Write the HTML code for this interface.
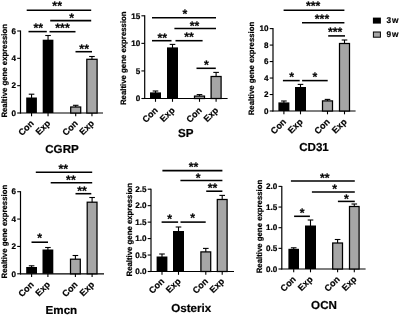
<!DOCTYPE html>
<html><head><meta charset="utf-8"><title>Figure</title>
<style>
html,body{margin:0;padding:0;background:#fff;}
body{width:400px;height:315px;overflow:hidden;}
svg{display:block;font-family:'Liberation Sans', Arial, sans-serif;}
text{fill:#000;stroke:#000;stroke-width:0.2px;text-rendering:geometricPrecision;}
</style></head><body>
<svg width="400" height="315" viewBox="0 0 400 315">
<rect width="400" height="315" fill="#fff"/>
<line x1="20.50" y1="30.50" x2="20.50" y2="113.50" stroke="#000" stroke-width="1.2"/>
<line x1="20.00" y1="113.00" x2="103.00" y2="113.00" stroke="#000" stroke-width="1.2"/>
<line x1="17.20" y1="113.00" x2="20.50" y2="113.00" stroke="#000" stroke-width="1.1"/>
<text x="16.00" y="115.70" font-size="8.1" font-weight="bold" text-anchor="end">0</text>
<line x1="17.20" y1="85.67" x2="20.50" y2="85.67" stroke="#000" stroke-width="1.1"/>
<text x="16.00" y="88.37" font-size="8.1" font-weight="bold" text-anchor="end">2</text>
<line x1="17.20" y1="58.33" x2="20.50" y2="58.33" stroke="#000" stroke-width="1.1"/>
<text x="16.00" y="61.03" font-size="8.1" font-weight="bold" text-anchor="end">4</text>
<line x1="17.20" y1="31.00" x2="20.50" y2="31.00" stroke="#000" stroke-width="1.1"/>
<text x="16.00" y="33.70" font-size="8.1" font-weight="bold" text-anchor="end">6</text>
<text x="6.80" y="117.60" font-size="7.8" font-weight="bold" text-anchor="start" transform="rotate(-90 6.80 117.60)">Realtive gene expression</text>
<line x1="31.55" y1="94.20" x2="31.55" y2="98.50" stroke="#000" stroke-width="1.1"/>
<line x1="28.75" y1="94.20" x2="34.35" y2="94.20" stroke="#000" stroke-width="1.1"/>
<rect x="26.20" y="97.50" width="10.70" height="15.50" fill="#000"/>
<line x1="31.55" y1="113.00" x2="31.55" y2="116.30" stroke="#000" stroke-width="1.1"/>
<text x="34.35" y="123.90" font-size="9.0" font-weight="bold" text-anchor="end" transform="rotate(-45 34.35 123.90)">Con</text>
<line x1="48.05" y1="35.50" x2="48.05" y2="40.70" stroke="#000" stroke-width="1.1"/>
<line x1="45.25" y1="35.50" x2="50.85" y2="35.50" stroke="#000" stroke-width="1.1"/>
<rect x="42.70" y="39.70" width="10.70" height="73.30" fill="#000"/>
<line x1="48.05" y1="113.00" x2="48.05" y2="116.30" stroke="#000" stroke-width="1.1"/>
<text x="50.85" y="123.90" font-size="9.0" font-weight="bold" text-anchor="end" transform="rotate(-45 50.85 123.90)">Exp</text>
<line x1="75.70" y1="105.30" x2="75.70" y2="107.50" stroke="#000" stroke-width="1.1"/>
<line x1="72.90" y1="105.30" x2="78.50" y2="105.30" stroke="#000" stroke-width="1.1"/>
<rect x="70.70" y="107.00" width="10.00" height="6.00" fill="#a6a6a6" stroke="#000" stroke-width="1.25"/>
<line x1="75.70" y1="113.00" x2="75.70" y2="116.30" stroke="#000" stroke-width="1.1"/>
<text x="78.50" y="123.90" font-size="9.0" font-weight="bold" text-anchor="end" transform="rotate(-45 78.50 123.90)">Con</text>
<line x1="91.95" y1="56.50" x2="91.95" y2="59.80" stroke="#000" stroke-width="1.1"/>
<line x1="89.15" y1="56.50" x2="94.75" y2="56.50" stroke="#000" stroke-width="1.1"/>
<rect x="86.80" y="59.30" width="10.30" height="53.70" fill="#a6a6a6" stroke="#000" stroke-width="1.25"/>
<line x1="91.95" y1="113.00" x2="91.95" y2="116.30" stroke="#000" stroke-width="1.1"/>
<text x="94.75" y="123.90" font-size="9.0" font-weight="bold" text-anchor="end" transform="rotate(-45 94.75 123.90)">Exp</text>
<line x1="26.70" y1="10.30" x2="91.20" y2="10.30" stroke="#000" stroke-width="1.55"/>
<text x="57.15" y="10" font-size="12.3" font-weight="bold" text-anchor="middle" stroke-width="0.05">**</text>
<line x1="50.20" y1="20.60" x2="91.20" y2="20.60" stroke="#000" stroke-width="1.55"/>
<text x="71.75" y="22" font-size="12.3" font-weight="bold" text-anchor="middle" stroke-width="0.05">*</text>
<line x1="28.50" y1="31.60" x2="46.80" y2="31.60" stroke="#000" stroke-width="1.55"/>
<text x="38.30" y="32" font-size="12.3" font-weight="bold" text-anchor="middle" stroke-width="0.05">**</text>
<line x1="49.50" y1="31.70" x2="75.50" y2="31.70" stroke="#000" stroke-width="1.55"/>
<text x="62.50" y="32" font-size="12.3" font-weight="bold" text-anchor="middle" stroke-width="0.05">***</text>
<line x1="75.50" y1="51.70" x2="92.00" y2="51.70" stroke="#000" stroke-width="1.55"/>
<text x="84.15" y="53" font-size="12.3" font-weight="bold" text-anchor="middle" stroke-width="0.05">**</text>
<text x="62.00" y="153.40" font-size="11.6" font-weight="bold" text-anchor="middle">CGRP</text>
<line x1="144.70" y1="15.30" x2="144.70" y2="99.00" stroke="#000" stroke-width="1.2"/>
<line x1="144.20" y1="98.50" x2="227.60" y2="98.50" stroke="#000" stroke-width="1.2"/>
<line x1="141.40" y1="98.50" x2="144.70" y2="98.50" stroke="#000" stroke-width="1.1"/>
<text x="140.20" y="101.20" font-size="8.1" font-weight="bold" text-anchor="end">0</text>
<line x1="141.40" y1="70.93" x2="144.70" y2="70.93" stroke="#000" stroke-width="1.1"/>
<text x="140.20" y="73.63" font-size="8.1" font-weight="bold" text-anchor="end">5</text>
<line x1="141.40" y1="43.37" x2="144.70" y2="43.37" stroke="#000" stroke-width="1.1"/>
<text x="140.20" y="46.07" font-size="8.1" font-weight="bold" text-anchor="end">10</text>
<line x1="141.40" y1="15.80" x2="144.70" y2="15.80" stroke="#000" stroke-width="1.1"/>
<text x="140.20" y="18.50" font-size="8.1" font-weight="bold" text-anchor="end">15</text>
<text x="126.10" y="105.00" font-size="7.8" font-weight="bold" text-anchor="start" transform="rotate(-90 126.10 105.00)">Realtive gene expression</text>
<line x1="155.50" y1="91.00" x2="155.50" y2="93.40" stroke="#000" stroke-width="1.1"/>
<line x1="152.70" y1="91.00" x2="158.30" y2="91.00" stroke="#000" stroke-width="1.1"/>
<rect x="150.00" y="92.40" width="11.00" height="6.10" fill="#000"/>
<line x1="155.50" y1="98.50" x2="155.50" y2="101.80" stroke="#000" stroke-width="1.1"/>
<text x="158.30" y="110.80" font-size="9.0" font-weight="bold" text-anchor="end" transform="rotate(-45 158.30 110.80)">Con</text>
<line x1="172.50" y1="44.40" x2="172.50" y2="48.40" stroke="#000" stroke-width="1.1"/>
<line x1="169.70" y1="44.40" x2="175.30" y2="44.40" stroke="#000" stroke-width="1.1"/>
<rect x="167.00" y="47.40" width="11.00" height="51.10" fill="#000"/>
<line x1="172.50" y1="98.50" x2="172.50" y2="101.80" stroke="#000" stroke-width="1.1"/>
<text x="175.30" y="110.80" font-size="9.0" font-weight="bold" text-anchor="end" transform="rotate(-45 175.30 110.80)">Exp</text>
<line x1="199.50" y1="94.60" x2="199.50" y2="96.60" stroke="#000" stroke-width="1.1"/>
<line x1="196.70" y1="94.60" x2="202.30" y2="94.60" stroke="#000" stroke-width="1.1"/>
<rect x="194.50" y="96.10" width="10.00" height="2.40" fill="#a6a6a6" stroke="#000" stroke-width="1.25"/>
<line x1="199.50" y1="98.50" x2="199.50" y2="101.80" stroke="#000" stroke-width="1.1"/>
<text x="202.30" y="110.80" font-size="9.0" font-weight="bold" text-anchor="end" transform="rotate(-45 202.30 110.80)">Con</text>
<line x1="216.10" y1="72.40" x2="216.10" y2="77.00" stroke="#000" stroke-width="1.1"/>
<line x1="213.30" y1="72.40" x2="218.90" y2="72.40" stroke="#000" stroke-width="1.1"/>
<rect x="211.10" y="76.50" width="10.00" height="22.00" fill="#a6a6a6" stroke="#000" stroke-width="1.25"/>
<line x1="216.10" y1="98.50" x2="216.10" y2="101.80" stroke="#000" stroke-width="1.1"/>
<text x="218.90" y="110.80" font-size="9.0" font-weight="bold" text-anchor="end" transform="rotate(-45 218.90 110.80)">Exp</text>
<line x1="152.00" y1="17.80" x2="216.00" y2="17.80" stroke="#000" stroke-width="1.55"/>
<text x="184.85" y="18" font-size="12.3" font-weight="bold" text-anchor="middle" stroke-width="0.05">*</text>
<line x1="174.40" y1="28.50" x2="216.00" y2="28.50" stroke="#000" stroke-width="1.55"/>
<text x="194.50" y="30" font-size="12.3" font-weight="bold" text-anchor="middle" stroke-width="0.05">**</text>
<line x1="152.00" y1="40.70" x2="171.50" y2="40.70" stroke="#000" stroke-width="1.55"/>
<text x="162.25" y="42" font-size="12.3" font-weight="bold" text-anchor="middle" stroke-width="0.05">**</text>
<line x1="175.50" y1="40.70" x2="202.60" y2="40.70" stroke="#000" stroke-width="1.55"/>
<text x="188.95" y="41" font-size="12.3" font-weight="bold" text-anchor="middle" stroke-width="0.05">**</text>
<line x1="196.50" y1="68.30" x2="215.80" y2="68.30" stroke="#000" stroke-width="1.55"/>
<text x="206.50" y="69" font-size="12.3" font-weight="bold" text-anchor="middle" stroke-width="0.05">*</text>
<text x="185.70" y="136.80" font-size="11.6" font-weight="bold" text-anchor="middle">SP</text>
<line x1="273.00" y1="28.10" x2="273.00" y2="111.50" stroke="#000" stroke-width="1.2"/>
<line x1="272.50" y1="111.00" x2="355.60" y2="111.00" stroke="#000" stroke-width="1.2"/>
<line x1="269.70" y1="111.00" x2="273.00" y2="111.00" stroke="#000" stroke-width="1.1"/>
<text x="268.50" y="113.70" font-size="8.1" font-weight="bold" text-anchor="end">0</text>
<line x1="269.70" y1="94.52" x2="273.00" y2="94.52" stroke="#000" stroke-width="1.1"/>
<text x="268.50" y="97.22" font-size="8.1" font-weight="bold" text-anchor="end">2</text>
<line x1="269.70" y1="78.04" x2="273.00" y2="78.04" stroke="#000" stroke-width="1.1"/>
<text x="268.50" y="80.74" font-size="8.1" font-weight="bold" text-anchor="end">4</text>
<line x1="269.70" y1="61.56" x2="273.00" y2="61.56" stroke="#000" stroke-width="1.1"/>
<text x="268.50" y="64.26" font-size="8.1" font-weight="bold" text-anchor="end">6</text>
<line x1="269.70" y1="45.08" x2="273.00" y2="45.08" stroke="#000" stroke-width="1.1"/>
<text x="268.50" y="47.78" font-size="8.1" font-weight="bold" text-anchor="end">8</text>
<line x1="269.70" y1="28.60" x2="273.00" y2="28.60" stroke="#000" stroke-width="1.1"/>
<text x="268.50" y="31.30" font-size="8.1" font-weight="bold" text-anchor="end">10</text>
<text x="254.40" y="115.30" font-size="7.8" font-weight="bold" text-anchor="start" transform="rotate(-90 254.40 115.30)">Realtive gene expression</text>
<line x1="283.90" y1="101.00" x2="283.90" y2="103.40" stroke="#000" stroke-width="1.1"/>
<line x1="281.10" y1="101.00" x2="286.70" y2="101.00" stroke="#000" stroke-width="1.1"/>
<rect x="278.40" y="102.40" width="11.00" height="8.60" fill="#000"/>
<line x1="283.90" y1="111.00" x2="283.90" y2="114.30" stroke="#000" stroke-width="1.1"/>
<text x="286.70" y="122.30" font-size="9.0" font-weight="bold" text-anchor="end" transform="rotate(-45 286.70 122.30)">Con</text>
<line x1="300.50" y1="84.40" x2="300.50" y2="88.00" stroke="#000" stroke-width="1.1"/>
<line x1="297.70" y1="84.40" x2="303.30" y2="84.40" stroke="#000" stroke-width="1.1"/>
<rect x="295.00" y="87.00" width="11.00" height="24.00" fill="#000"/>
<line x1="300.50" y1="111.00" x2="300.50" y2="114.30" stroke="#000" stroke-width="1.1"/>
<text x="303.30" y="122.30" font-size="9.0" font-weight="bold" text-anchor="end" transform="rotate(-45 303.30 122.30)">Exp</text>
<line x1="327.50" y1="99.40" x2="327.50" y2="101.40" stroke="#000" stroke-width="1.1"/>
<line x1="324.70" y1="99.40" x2="330.30" y2="99.40" stroke="#000" stroke-width="1.1"/>
<rect x="322.50" y="100.90" width="10.00" height="10.10" fill="#a6a6a6" stroke="#000" stroke-width="1.25"/>
<line x1="327.50" y1="111.00" x2="327.50" y2="114.30" stroke="#000" stroke-width="1.1"/>
<text x="330.30" y="122.30" font-size="9.0" font-weight="bold" text-anchor="end" transform="rotate(-45 330.30 122.30)">Con</text>
<line x1="344.50" y1="40.00" x2="344.50" y2="44.00" stroke="#000" stroke-width="1.1"/>
<line x1="341.70" y1="40.00" x2="347.30" y2="40.00" stroke="#000" stroke-width="1.1"/>
<rect x="339.50" y="43.50" width="10.00" height="67.50" fill="#a6a6a6" stroke="#000" stroke-width="1.25"/>
<line x1="344.50" y1="111.00" x2="344.50" y2="114.30" stroke="#000" stroke-width="1.1"/>
<text x="347.30" y="122.30" font-size="9.0" font-weight="bold" text-anchor="end" transform="rotate(-45 347.30 122.30)">Exp</text>
<line x1="283.60" y1="10.20" x2="344.40" y2="10.20" stroke="#000" stroke-width="1.55"/>
<text x="313.20" y="10" font-size="12.3" font-weight="bold" text-anchor="middle" stroke-width="0.05">***</text>
<line x1="302.00" y1="22.70" x2="344.40" y2="22.70" stroke="#000" stroke-width="1.55"/>
<text x="322.00" y="23" font-size="12.3" font-weight="bold" text-anchor="middle" stroke-width="0.05">***</text>
<line x1="328.20" y1="35.90" x2="345.00" y2="35.90" stroke="#000" stroke-width="1.55"/>
<text x="335.20" y="36" font-size="12.3" font-weight="bold" text-anchor="middle" stroke-width="0.05">***</text>
<line x1="282.90" y1="80.60" x2="299.70" y2="80.60" stroke="#000" stroke-width="1.55"/>
<text x="291.65" y="81" font-size="12.3" font-weight="bold" text-anchor="middle" stroke-width="0.05">*</text>
<line x1="302.10" y1="80.60" x2="327.70" y2="80.60" stroke="#000" stroke-width="1.55"/>
<text x="314.90" y="81" font-size="12.3" font-weight="bold" text-anchor="middle" stroke-width="0.05">*</text>
<text x="314.00" y="150.80" font-size="11.6" font-weight="bold" text-anchor="middle">CD31</text>
<line x1="20.50" y1="191.20" x2="20.50" y2="274.30" stroke="#000" stroke-width="1.2"/>
<line x1="20.00" y1="273.80" x2="104.00" y2="273.80" stroke="#000" stroke-width="1.2"/>
<line x1="17.20" y1="273.80" x2="20.50" y2="273.80" stroke="#000" stroke-width="1.1"/>
<text x="16.00" y="276.50" font-size="8.1" font-weight="bold" text-anchor="end">0</text>
<line x1="17.20" y1="246.43" x2="20.50" y2="246.43" stroke="#000" stroke-width="1.1"/>
<text x="16.00" y="249.13" font-size="8.1" font-weight="bold" text-anchor="end">2</text>
<line x1="17.20" y1="219.07" x2="20.50" y2="219.07" stroke="#000" stroke-width="1.1"/>
<text x="16.00" y="221.77" font-size="8.1" font-weight="bold" text-anchor="end">4</text>
<line x1="17.20" y1="191.70" x2="20.50" y2="191.70" stroke="#000" stroke-width="1.1"/>
<text x="16.00" y="194.40" font-size="8.1" font-weight="bold" text-anchor="end">6</text>
<text x="6.60" y="278.40" font-size="7.8" font-weight="bold" text-anchor="start" transform="rotate(-90 6.60 278.40)">Realtive gene expression</text>
<line x1="31.60" y1="265.80" x2="31.60" y2="268.00" stroke="#000" stroke-width="1.1"/>
<line x1="28.80" y1="265.80" x2="34.40" y2="265.80" stroke="#000" stroke-width="1.1"/>
<rect x="26.20" y="267.00" width="10.80" height="6.80" fill="#000"/>
<line x1="31.60" y1="273.80" x2="31.60" y2="277.10" stroke="#000" stroke-width="1.1"/>
<text x="34.40" y="285.10" font-size="9.0" font-weight="bold" text-anchor="end" transform="rotate(-45 34.40 285.10)">Con</text>
<line x1="47.90" y1="247.50" x2="47.90" y2="250.50" stroke="#000" stroke-width="1.1"/>
<line x1="45.10" y1="247.50" x2="50.70" y2="247.50" stroke="#000" stroke-width="1.1"/>
<rect x="42.50" y="249.50" width="10.80" height="24.30" fill="#000"/>
<line x1="47.90" y1="273.80" x2="47.90" y2="277.10" stroke="#000" stroke-width="1.1"/>
<text x="50.70" y="285.10" font-size="9.0" font-weight="bold" text-anchor="end" transform="rotate(-45 50.70 285.10)">Exp</text>
<line x1="75.40" y1="255.50" x2="75.40" y2="259.70" stroke="#000" stroke-width="1.1"/>
<line x1="72.60" y1="255.50" x2="78.20" y2="255.50" stroke="#000" stroke-width="1.1"/>
<rect x="70.50" y="259.20" width="9.80" height="14.60" fill="#a6a6a6" stroke="#000" stroke-width="1.25"/>
<line x1="75.40" y1="273.80" x2="75.40" y2="277.10" stroke="#000" stroke-width="1.1"/>
<text x="78.20" y="285.10" font-size="9.0" font-weight="bold" text-anchor="end" transform="rotate(-45 78.20 285.10)">Con</text>
<line x1="92.10" y1="197.50" x2="92.10" y2="202.70" stroke="#000" stroke-width="1.1"/>
<line x1="89.30" y1="197.50" x2="94.90" y2="197.50" stroke="#000" stroke-width="1.1"/>
<rect x="87.20" y="202.20" width="9.80" height="71.60" fill="#a6a6a6" stroke="#000" stroke-width="1.25"/>
<line x1="92.10" y1="273.80" x2="92.10" y2="277.10" stroke="#000" stroke-width="1.1"/>
<text x="94.90" y="285.10" font-size="9.0" font-weight="bold" text-anchor="end" transform="rotate(-45 94.90 285.10)">Exp</text>
<line x1="35.80" y1="172.25" x2="92.20" y2="172.25" stroke="#000" stroke-width="1.55"/>
<text x="63.35" y="173" font-size="12.3" font-weight="bold" text-anchor="middle" stroke-width="0.05">**</text>
<line x1="50.70" y1="182.80" x2="92.20" y2="182.80" stroke="#000" stroke-width="1.55"/>
<text x="70.90" y="184" font-size="12.3" font-weight="bold" text-anchor="middle" stroke-width="0.05">**</text>
<line x1="75.50" y1="193.70" x2="91.30" y2="193.70" stroke="#000" stroke-width="1.55"/>
<text x="82.10" y="195" font-size="12.3" font-weight="bold" text-anchor="middle" stroke-width="0.05">**</text>
<line x1="31.50" y1="242.20" x2="48.00" y2="242.20" stroke="#000" stroke-width="1.55"/>
<text x="39.60" y="242" font-size="12.3" font-weight="bold" text-anchor="middle" stroke-width="0.05">*</text>
<text x="61.40" y="314.00" font-size="11.6" font-weight="bold" text-anchor="middle">Emcn</text>
<line x1="151.00" y1="188.70" x2="151.00" y2="272.00" stroke="#000" stroke-width="1.2"/>
<line x1="150.50" y1="271.50" x2="234.00" y2="271.50" stroke="#000" stroke-width="1.2"/>
<line x1="147.70" y1="271.50" x2="151.00" y2="271.50" stroke="#000" stroke-width="1.1"/>
<text x="146.50" y="274.20" font-size="8.1" font-weight="bold" text-anchor="end">0.0</text>
<line x1="147.70" y1="255.04" x2="151.00" y2="255.04" stroke="#000" stroke-width="1.1"/>
<text x="146.50" y="257.74" font-size="8.1" font-weight="bold" text-anchor="end">0.5</text>
<line x1="147.70" y1="238.58" x2="151.00" y2="238.58" stroke="#000" stroke-width="1.1"/>
<text x="146.50" y="241.28" font-size="8.1" font-weight="bold" text-anchor="end">1.0</text>
<line x1="147.70" y1="222.12" x2="151.00" y2="222.12" stroke="#000" stroke-width="1.1"/>
<text x="146.50" y="224.82" font-size="8.1" font-weight="bold" text-anchor="end">1.5</text>
<line x1="147.70" y1="205.66" x2="151.00" y2="205.66" stroke="#000" stroke-width="1.1"/>
<text x="146.50" y="208.36" font-size="8.1" font-weight="bold" text-anchor="end">2.0</text>
<line x1="147.70" y1="189.20" x2="151.00" y2="189.20" stroke="#000" stroke-width="1.1"/>
<text x="146.50" y="191.90" font-size="8.1" font-weight="bold" text-anchor="end">2.5</text>
<text x="131.50" y="276.50" font-size="7.8" font-weight="bold" text-anchor="start" transform="rotate(-90 131.50 276.50)">Realtive gene expression</text>
<line x1="162.00" y1="254.00" x2="162.00" y2="257.50" stroke="#000" stroke-width="1.1"/>
<line x1="159.20" y1="254.00" x2="164.80" y2="254.00" stroke="#000" stroke-width="1.1"/>
<rect x="156.60" y="256.50" width="10.80" height="15.00" fill="#000"/>
<line x1="162.00" y1="271.50" x2="162.00" y2="274.80" stroke="#000" stroke-width="1.1"/>
<text x="164.80" y="281.80" font-size="9.0" font-weight="bold" text-anchor="end" transform="rotate(-45 164.80 281.80)">Con</text>
<line x1="178.50" y1="227.00" x2="178.50" y2="232.00" stroke="#000" stroke-width="1.1"/>
<line x1="175.70" y1="227.00" x2="181.30" y2="227.00" stroke="#000" stroke-width="1.1"/>
<rect x="173.00" y="231.00" width="11.00" height="40.50" fill="#000"/>
<line x1="178.50" y1="271.50" x2="178.50" y2="274.80" stroke="#000" stroke-width="1.1"/>
<text x="181.30" y="281.80" font-size="9.0" font-weight="bold" text-anchor="end" transform="rotate(-45 181.30 281.80)">Exp</text>
<line x1="205.80" y1="248.40" x2="205.80" y2="252.40" stroke="#000" stroke-width="1.1"/>
<line x1="203.00" y1="248.40" x2="208.60" y2="248.40" stroke="#000" stroke-width="1.1"/>
<rect x="200.90" y="251.90" width="9.80" height="19.60" fill="#a6a6a6" stroke="#000" stroke-width="1.25"/>
<line x1="205.80" y1="271.50" x2="205.80" y2="274.80" stroke="#000" stroke-width="1.1"/>
<text x="208.60" y="281.80" font-size="9.0" font-weight="bold" text-anchor="end" transform="rotate(-45 208.60 281.80)">Con</text>
<line x1="222.20" y1="195.40" x2="222.20" y2="200.00" stroke="#000" stroke-width="1.1"/>
<line x1="219.40" y1="195.40" x2="225.00" y2="195.40" stroke="#000" stroke-width="1.1"/>
<rect x="217.30" y="199.50" width="9.80" height="72.00" fill="#a6a6a6" stroke="#000" stroke-width="1.25"/>
<line x1="222.20" y1="271.50" x2="222.20" y2="274.80" stroke="#000" stroke-width="1.1"/>
<text x="225.00" y="281.80" font-size="9.0" font-weight="bold" text-anchor="end" transform="rotate(-45 225.00 281.80)">Exp</text>
<line x1="162.40" y1="170.60" x2="222.40" y2="170.60" stroke="#000" stroke-width="1.55"/>
<text x="193.60" y="171" font-size="12.3" font-weight="bold" text-anchor="middle" stroke-width="0.05">**</text>
<line x1="180.40" y1="180.40" x2="222.40" y2="180.40" stroke="#000" stroke-width="1.55"/>
<text x="198.05" y="182" font-size="12.3" font-weight="bold" text-anchor="middle" stroke-width="0.05">*</text>
<line x1="206.20" y1="191.20" x2="222.40" y2="191.20" stroke="#000" stroke-width="1.55"/>
<text x="212.55" y="192" font-size="12.3" font-weight="bold" text-anchor="middle" stroke-width="0.05">**</text>
<line x1="161.60" y1="222.10" x2="178.10" y2="222.10" stroke="#000" stroke-width="1.55"/>
<text x="169.65" y="223" font-size="12.3" font-weight="bold" text-anchor="middle" stroke-width="0.05">*</text>
<line x1="180.50" y1="222.10" x2="205.70" y2="222.10" stroke="#000" stroke-width="1.55"/>
<text x="192.75" y="222" font-size="12.3" font-weight="bold" text-anchor="middle" stroke-width="0.05">*</text>
<text x="191.20" y="312.00" font-size="11.6" font-weight="bold" text-anchor="middle">Osterix</text>
<line x1="281.80" y1="185.90" x2="281.80" y2="269.50" stroke="#000" stroke-width="1.2"/>
<line x1="281.30" y1="269.00" x2="365.60" y2="269.00" stroke="#000" stroke-width="1.2"/>
<line x1="278.50" y1="269.00" x2="281.80" y2="269.00" stroke="#000" stroke-width="1.1"/>
<text x="277.30" y="271.70" font-size="8.1" font-weight="bold" text-anchor="end">0.0</text>
<line x1="278.50" y1="248.35" x2="281.80" y2="248.35" stroke="#000" stroke-width="1.1"/>
<text x="277.30" y="251.05" font-size="8.1" font-weight="bold" text-anchor="end">0.5</text>
<line x1="278.50" y1="227.70" x2="281.80" y2="227.70" stroke="#000" stroke-width="1.1"/>
<text x="277.30" y="230.40" font-size="8.1" font-weight="bold" text-anchor="end">1.0</text>
<line x1="278.50" y1="207.05" x2="281.80" y2="207.05" stroke="#000" stroke-width="1.1"/>
<text x="277.30" y="209.75" font-size="8.1" font-weight="bold" text-anchor="end">1.5</text>
<line x1="278.50" y1="186.40" x2="281.80" y2="186.40" stroke="#000" stroke-width="1.1"/>
<text x="277.30" y="189.10" font-size="8.1" font-weight="bold" text-anchor="end">2.0</text>
<text x="262.00" y="273.30" font-size="7.8" font-weight="bold" text-anchor="start" transform="rotate(-90 262.00 273.30)">Realtive gene expression</text>
<line x1="293.70" y1="247.80" x2="293.70" y2="249.80" stroke="#000" stroke-width="1.1"/>
<line x1="290.90" y1="247.80" x2="296.50" y2="247.80" stroke="#000" stroke-width="1.1"/>
<rect x="288.40" y="248.80" width="10.60" height="20.20" fill="#000"/>
<line x1="293.70" y1="269.00" x2="293.70" y2="272.30" stroke="#000" stroke-width="1.1"/>
<text x="296.50" y="279.80" font-size="9.0" font-weight="bold" text-anchor="end" transform="rotate(-45 296.50 279.80)">Con</text>
<line x1="310.50" y1="220.00" x2="310.50" y2="226.50" stroke="#000" stroke-width="1.1"/>
<line x1="307.70" y1="220.00" x2="313.30" y2="220.00" stroke="#000" stroke-width="1.1"/>
<rect x="305.00" y="225.50" width="11.00" height="43.50" fill="#000"/>
<line x1="310.50" y1="269.00" x2="310.50" y2="272.30" stroke="#000" stroke-width="1.1"/>
<text x="313.30" y="279.80" font-size="9.0" font-weight="bold" text-anchor="end" transform="rotate(-45 313.30 279.80)">Exp</text>
<line x1="337.60" y1="239.50" x2="337.60" y2="243.50" stroke="#000" stroke-width="1.1"/>
<line x1="334.80" y1="239.50" x2="340.40" y2="239.50" stroke="#000" stroke-width="1.1"/>
<rect x="332.70" y="243.00" width="9.80" height="26.00" fill="#a6a6a6" stroke="#000" stroke-width="1.25"/>
<line x1="337.60" y1="269.00" x2="337.60" y2="272.30" stroke="#000" stroke-width="1.1"/>
<text x="340.40" y="279.80" font-size="9.0" font-weight="bold" text-anchor="end" transform="rotate(-45 340.40 279.80)">Con</text>
<line x1="354.30" y1="204.00" x2="354.30" y2="207.00" stroke="#000" stroke-width="1.1"/>
<line x1="351.50" y1="204.00" x2="357.10" y2="204.00" stroke="#000" stroke-width="1.1"/>
<rect x="349.50" y="206.50" width="9.60" height="62.50" fill="#a6a6a6" stroke="#000" stroke-width="1.25"/>
<line x1="354.30" y1="269.00" x2="354.30" y2="272.30" stroke="#000" stroke-width="1.1"/>
<text x="357.10" y="279.80" font-size="9.0" font-weight="bold" text-anchor="end" transform="rotate(-45 357.10 279.80)">Exp</text>
<line x1="290.90" y1="180.90" x2="354.80" y2="180.90" stroke="#000" stroke-width="1.55"/>
<text x="324.80" y="182" font-size="12.3" font-weight="bold" text-anchor="middle" stroke-width="0.05">**</text>
<line x1="311.90" y1="191.90" x2="354.80" y2="191.90" stroke="#000" stroke-width="1.55"/>
<text x="334.55" y="193" font-size="12.3" font-weight="bold" text-anchor="middle" stroke-width="0.05">*</text>
<line x1="337.90" y1="201.40" x2="354.80" y2="201.40" stroke="#000" stroke-width="1.55"/>
<text x="346.35" y="203" font-size="12.3" font-weight="bold" text-anchor="middle" stroke-width="0.05">*</text>
<line x1="294.10" y1="216.30" x2="309.90" y2="216.30" stroke="#000" stroke-width="1.55"/>
<text x="302.25" y="217" font-size="12.3" font-weight="bold" text-anchor="middle" stroke-width="0.05">*</text>
<text x="324.00" y="309.10" font-size="11.6" font-weight="bold" text-anchor="middle">OCN</text>
<rect x="372.90" y="17.60" width="8.00" height="6.00" fill="#000"/>
<text x="386.4" y="23.4" font-size="8.3" font-weight="bold" letter-spacing="0.9">3w</text>
<rect x="373.40" y="32.00" width="7.00" height="5.20" fill="#a6a6a6" stroke="#000" stroke-width="1"/>
<text x="386.4" y="37.4" font-size="8.3" font-weight="bold" letter-spacing="0.9">9w</text>
</svg>
</body></html>
